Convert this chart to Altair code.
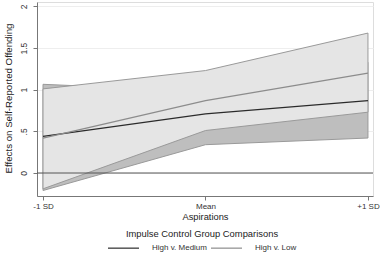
import altair as alt
import pandas as pd

# ---- data ----
x_levels = [-1, 0, 1]                       # -1 SD, Mean, +1 SD
x_labels = ["-1 SD", "Mean", "+1 SD"]

med_est = [0.44, 0.71, 0.87]                # High v. Medium
med_lo = [-0.21, 0.34, 0.42]
med_hi = [1.065, 0.98, 1.33]

low_est = [0.42, 0.87, 1.20]                # High v. Low
low_lo = [-0.19, 0.51, 0.73]
low_hi = [1.01, 1.23, 1.68]

series = ["High v. Medium", "High v. Low"]

rows = []
for s, est, lo, hi in [(series[0], med_est, med_lo, med_hi),
                       (series[1], low_est, low_lo, low_hi)]:
    for x, e, l, h in zip(x_levels, est, lo, hi):
        rows.append({"series": s, "x": x, "est": e, "lo": l, "hi": h})
df = pd.DataFrame(rows)
zero = pd.DataFrame({"y": [0]})

FONT = "Liberation Sans"
xlab_expr = ("datum.value == -1 ? '" + x_labels[0] + "' : datum.value == 0 ? '"
             + x_labels[1] + "' : '" + x_labels[2] + "'")

x_enc = alt.X("x:Q",
              scale=alt.Scale(domain=[-1.037, 1.031], nice=False, zero=False),
              axis=alt.Axis(values=x_levels, labelExpr=xlab_expr, title="Aspirations",
                            grid=False, tickSize=4, labelPadding=2, labelFontSize=8,
                            titleFontSize=9.3, titleFontWeight="normal",
                            titleBaseline="alphabetic", titleY=23,
                            domainColor="#777777", tickColor="#777777",
                            labelColor="#333333", titleColor="#222222"))
y_scale = alt.Scale(domain=[-0.276, 2.053], nice=False, zero=False)
y_axis = alt.Axis(values=[0, 0.5, 1, 1.5, 2],
                  labelExpr="datum.value == 0.5 ? '.5' : format(datum.value, '~g')",
                  title="Effects on Self-Reported Offending",
                  labelAngle=270, labelAlign="center", labelBaseline="middle",
                  labelPadding=10, labelFontSize=8.5, tickSize=4,
                  titleFontSize=9.7, titleFontWeight="normal", titleAngle=270,
                  titleX=-29, titleY=96, titleAlign="center", titleBaseline="middle",
                  grid=True, gridColor="#eeeeee", gridWidth=1,
                  domainColor="#777777", tickColor="#777777",
                  labelColor="#333333", titleColor="#222222")

base = alt.Chart(df)

band_med = base.transform_filter(alt.datum.series == series[0]).mark_area(
    color="#bebebe", stroke="#9a9a9a", strokeWidth=1, opacity=1
).encode(x=x_enc, y=alt.Y("lo:Q", scale=y_scale, axis=y_axis), y2="hi:Q")

band_low = base.transform_filter(alt.datum.series == series[1]).mark_area(
    color="#e5e5e5", stroke="#9a9a9a", strokeWidth=1, opacity=1
).encode(x="x:Q", y="lo:Q", y2="hi:Q")

zero_rule = alt.Chart(zero).mark_rule(color="#555555", strokeWidth=1).encode(y="y:Q")

lines = base.mark_line(strokeWidth=1.3).encode(
    x="x:Q", y="est:Q",
    color=alt.Color("series:N",
                    scale=alt.Scale(domain=series, range=["#2b2b2b", "#8c8c8c"]),
                    legend=alt.Legend(title="Impulse Control Group Comparisons",
                                      orient="none", legendX=70, legendY=228,
                                      direction="horizontal", titleAnchor="middle",
                                      titleFontSize=9.4, titleFontWeight="normal",
                                      titleColor="#222222", titlePadding=-8,
                                      labelFontSize=8, labelColor="#333333",
                                      symbolType="stroke", symbolSize=961,
                                      symbolStrokeWidth=1.2, labelOffset=12,
                                      columnPadding=1, padding=0)),
    detail="series:N")

chart = alt.layer(band_med, band_low, zero_rule, lines).properties(
    width=336, height=194,
    autosize=alt.AutoSizeParams(type="none"),
    padding={"left": 37, "top": 2, "right": 7, "bottom": 58},
    background="white"
).configure_view(stroke=None).configure(font=FONT)

chart.save("out.html", embed_options={"renderer": "svg", "actions": False})
